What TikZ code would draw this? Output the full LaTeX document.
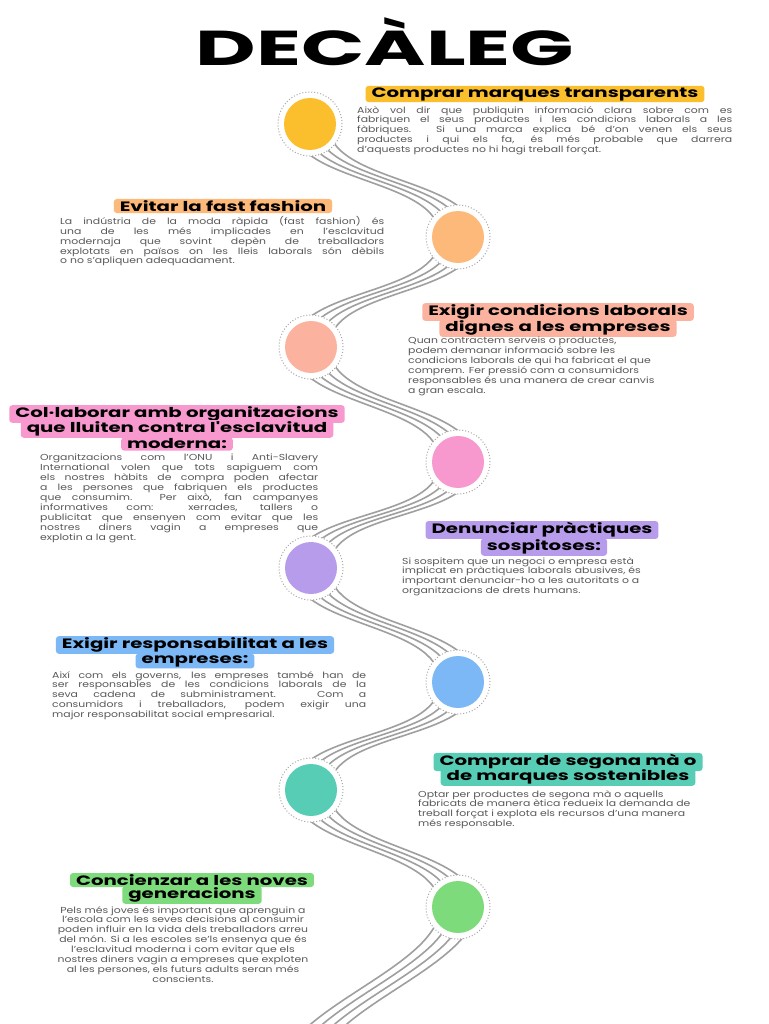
\documentclass[tikz,border=0pt]{standalone}
\usepackage{fontspec}
\setmainfont{Poppins}[FakeStretch=1.25]
\newfontfamily\hd{Poppins}[FakeStretch=1.45]
\newfontfamily\ttl{Poppins}[FakeStretch=1.7]
\begin{document}
\hyphenpenalty=10000 \exhyphenpenalty=10000
\begin{tikzpicture}[x=1pt,y=-1pt,
 hdr/.style={rounded corners=3pt,inner xsep=6pt,inner ysep=1.5pt,font=\hd\bfseries\fontsize{13.6}{14}\selectfont},
 body/.style={anchor=north west,inner sep=0pt,text=black!65,font=\fontsize{8.7}{9.9}\selectfont},
 ring/.style={draw=gray!70,dotted,line width=1pt,fill=white},
 wave/.style={draw=gray!75,line width=1.6pt}]
\useasboundingbox[fill=white] (0,0) rectangle (768,1024);
\definecolor{cA}{HTML}{FBBF2E}\definecolor{cB}{HTML}{FDB97A}\definecolor{cC}{HTML}{FBB39F}
\definecolor{cD}{HTML}{F799CF}\definecolor{cE}{HTML}{B89CEC}\definecolor{cF}{HTML}{7CB8F5}
\definecolor{cG}{HTML}{57CDB5}\definecolor{cH}{HTML}{7DDB7B}
\node (title) at (385,42) {\ttl\bfseries\fontsize{49}{49}\selectfont DECÀLEG};
% waves
\foreach \ya/\xa/\yb/\xb in {124/310/237/458,237/458/347/311,347/311/462/458,462/458/568/311,568/311/682/458,682/458/790/311,790/311/907/458,907/458/1070/300}{
 \foreach \d in {-18,-6,6,18}{
  \draw[wave] (\xa+\d,\ya) .. controls (\xa+\d,\ya+60) and (\xb+\d,\yb-60) .. (\xb+\d,\yb);
 }}
% circles
\foreach \n/\x/\y/\c in {a/310/124/cA,b/458/237/cB,c/311/347/cC,d/458/462/cD,e/311/568/cE,f/458/682/cF,g/311/790/cG,h/458/907/cH}{
 \node[ring,circle,minimum size=64pt] (r\n) at (\x,\y) {};
 \node[circle,fill=\c,minimum size=52pt] (c\n) at (\x,\y) {};
}
% 1
\node[hdr,fill=cA] (h1) at (535,94) {Comprar marques transparents};
\node[body,text width=375pt,align=justify] (t1) at (357,106) {Això vol dir que publiquin informació clara sobre com es\linebreak fabriquen el seus productes i les condicions laborals a les\linebreak fàbriques. Si una marca explica bé d'on venen els seus\linebreak productes i qui els fa, és més probable que darrera\linebreak d'aquests productes no hi hagi treball forçat.};
% 2
\node[hdr,fill=cB] (h2) at (223,206) {Evitar la fast fashion};
\node[body,text width=324pt,align=justify] (t2) at (60,216) {La indústria de la moda ràpida (fast fashion) és\linebreak una de les més implicades en l'esclavitud\linebreak modernaja que sovint depèn de treballadors\linebreak explotats en països on les lleis laborals són dèbils\linebreak o no s'apliquen adequadament.};
% 3
\node[hdr,fill=cC] (h3a) at (558,312) {Exigir condicions laborals};
\node[hdr,fill=cC] (h3b) at (558,328) {dignes a les empreses};
\node[body,text width=300pt,align=left] (t3) at (408,337) {Quan contractem serveis o productes,\\ podem demanar informació sobre les\\ condicions laborals de qui ha fabricat el que\\ comprem. Fer pressió com a consumidors\\ responsables és una manera de crear canvis\\ a gran escala.};
% 4
\node[hdr,fill=cD] (h4a) at (177,414) {Col·laborar amb organitzacions};
\node[hdr,fill=cD] (h4b) at (177,429) {que lluiten contra l'esclavitud};
\node[hdr,fill=cD] (h4c) at (177,444) {moderna:};
\node[body,text width=278pt,align=justify] (t4) at (40,454) {Organitzacions com l'ONU i Anti-Slavery\linebreak International volen que tots sapiguem com\linebreak els nostres hàbits de compra poden afectar\linebreak a les persones que fabriquen els productes\linebreak que consumim. Per això, fan campanyes\linebreak informatives com: xerrades, tallers o\linebreak publicitat que ensenyen com evitar que les\linebreak nostres diners vagin a empreses que\linebreak explotin a la gent.};
% 5
\node[hdr,fill=cE] (h5a) at (542,530) {Denunciar pràctiques};
\node[hdr,fill=cE] (h5b) at (544,547) {sospitoses:};
\node[body,text width=300pt,align=left] (t5) at (402,557) {Si sospitem que un negoci o empresa està\\ implicat en pràctiques laborals abusives, és\\ important denunciar-ho a les autoritats o a\\ organitzacions de drets humans.};
% 6
\node[hdr,fill=cF] (h6a) at (195,645) {Exigir responsabilitat a les};
\node[hdr,fill=cF] (h6b) at (195,661) {empreses:};
\node[body,text width=314pt,align=justify] (t6) at (52,671) {Així com els governs, les empreses també han de\linebreak ser responsables de les condicions laborals de la\linebreak seva cadena de subministrament. Com a\linebreak consumidors i treballadors, podem exigir una\linebreak major responsabilitat social empresarial.};
% 7
\node[hdr,fill=cG] (h7a) at (568,762) {Comprar de segona mà o};
\node[hdr,fill=cG] (h7b) at (568,777) {de marques sostenibles};
\node[body,text width=330pt,align=left] (t7) at (418,790) {Optar per productes de segona mà o aquells\\ fabricats de manera ètica redueix la demanda de\\ treball forçat i explota els recursos d'una manera\\ més responsable.};
% 8
\node[hdr,fill=cH] (h8a) at (192,880) {Concienzar a les noves};
\node[hdr,fill=cH] (h8b) at (192,895) {generacions};
\node[body,anchor=north,text width=300pt,align=center] (t8) at (183,906) {Pels més joves és important que aprenguin a\\ l'escola com les seves decisions al consumir\\ poden influir en la vida dels treballadors arreu\\ del món. Si a les escoles se'ls ensenya que és\\ l'esclavitud moderna i com evitar que els\\ nostres diners vagin a empreses que exploten\\ al les persones, els futurs adults seran més\\ conscients.};
\end{tikzpicture}
\end{document}
